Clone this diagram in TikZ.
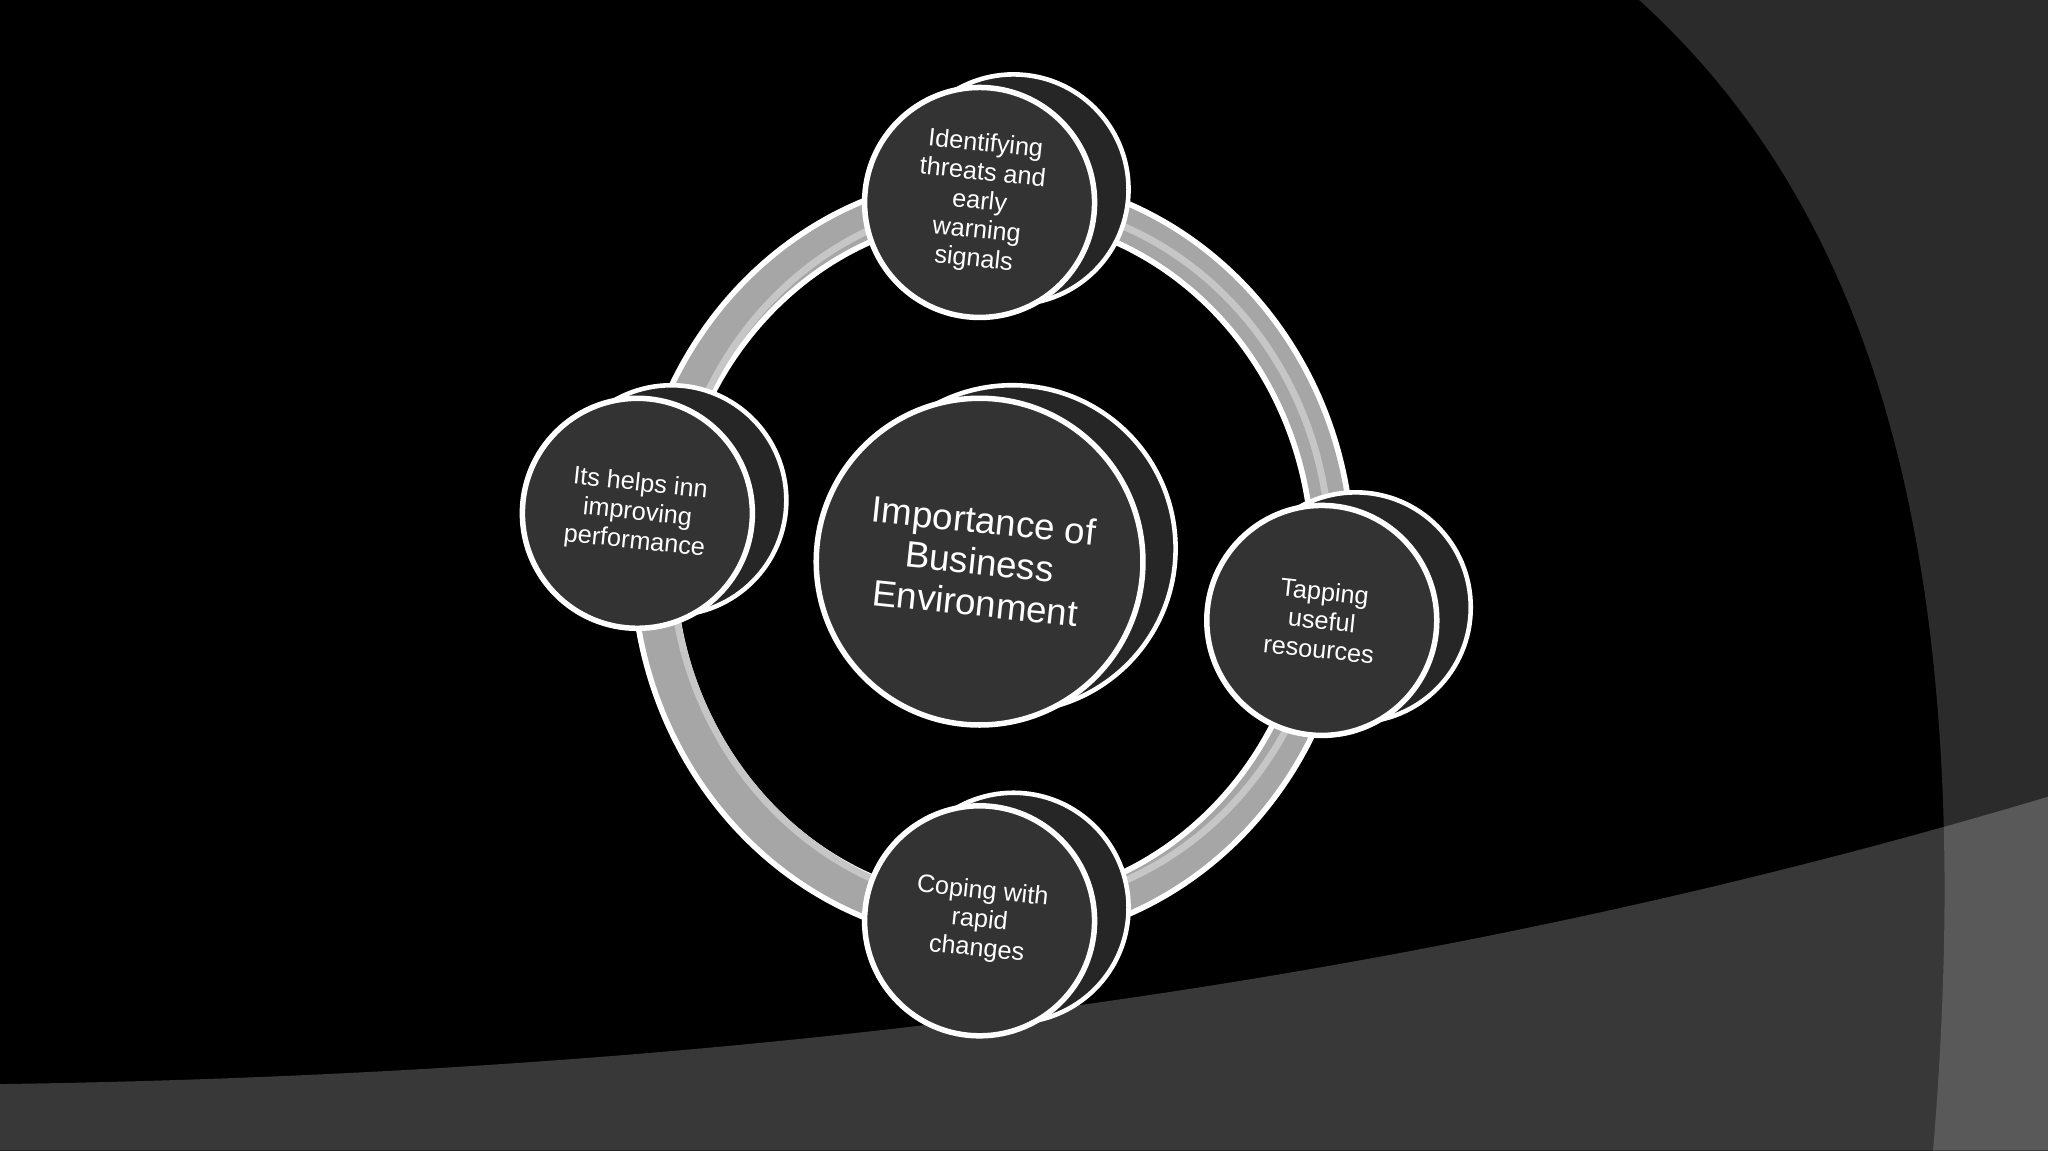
\documentclass[tikz,border=0pt]{standalone}
\usepackage{fontspec}
\setmainfont{Liberation Sans}
\begin{document}
\begin{tikzpicture}[x=0.01cm,y=-0.01cm,
  disc/.style={circle,draw=white,line width=1.2pt,fill=gray!40!black,minimum size=1.76cm},
  back/.style={circle,draw=white,line width=1pt,fill=gray!30!black,minimum size=1.76cm},
  lbl/.style={text=white,align=center,font=\fontsize{5.5}{6.3}\selectfont,rotate=-6}]
\fill[black] (0,0) rectangle (1568,881);
\useasboundingbox (0,0) rectangle (1568,881);
% swooshes
\fill[white,opacity=0.17] (1255,0) .. controls (1420,150) and (1520,400) .. (1480,881) -- (1568,881) -- (1568,0) -- cycle;
\fill[white,opacity=0.22] (0,830) .. controls (700,820) and (1200,720) .. (1568,610) -- (1568,881) -- (0,881) -- cycle;
% ring
\draw[white,line width=10pt] (760,428) ellipse (2.6cm and 2.78cm);
\draw[gray!70,line width=7.5pt] (760,428) ellipse (2.6cm and 2.78cm);
\draw[gray!45,line width=1.5pt] (766,424) ellipse (2.52cm and 2.70cm);
% discs
\foreach \n/\x/\y in {t/750/155,l/488/393,r/1012/475,b/750/705}{
  \node[back] at (\x+26,\y-10) {};
  \node[disc] (\n) at (\x,\y) {};
}
\node[back,minimum size=2.5cm] at (775,420) {};
\node[disc,minimum size=2.5cm] (c) at (750,430) {};
\node[lbl] at (t) {Identifying\\threats and\\early\\warning\\signals};
\node[lbl] at (l) {Its helps inn\\improving\\performance};
\node[lbl] at (r) {Tapping\\useful\\resources};
\node[lbl] at (b) {Coping with\\rapid\\changes};
\node[lbl,font=\fontsize{8}{9}\selectfont] at (c) {Importance of\\Business\\Environment};
\end{tikzpicture}
\end{document}
